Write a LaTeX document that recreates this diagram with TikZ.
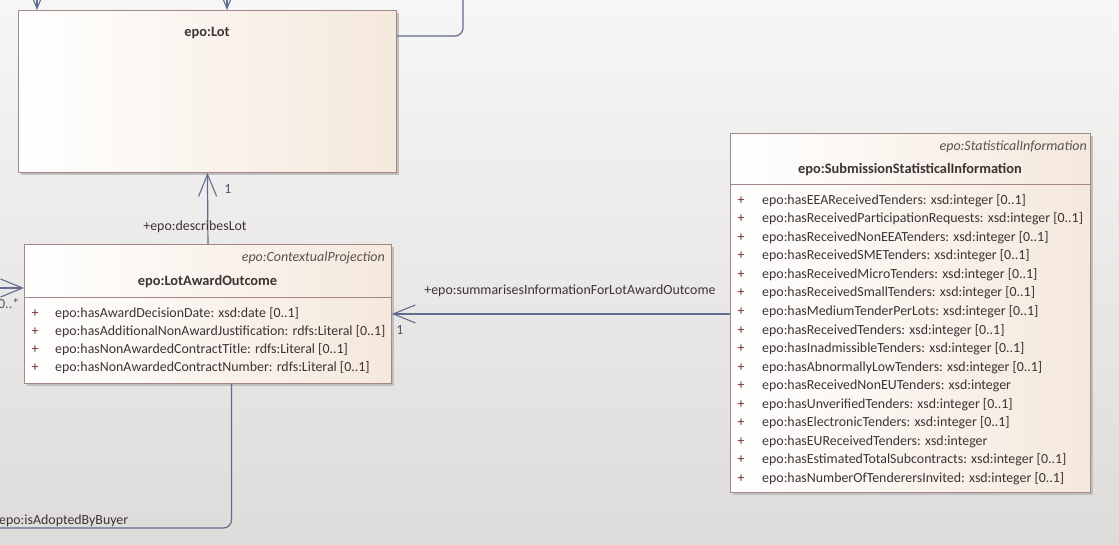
\documentclass[tikz,border=0pt]{standalone}
\usepackage{fontspec}
\setmainfont{Carlito}
\usetikzlibrary{arrows.meta,shadows,calc}
\definecolor{conncol}{RGB}{98,108,140}
\definecolor{boxborder}{RGB}{165,135,135}
\definecolor{boxright}{RGB}{245,232,220}
\definecolor{txtcol}{RGB}{60,52,52}
\definecolor{pluscol}{RGB}{120,40,40}
\definecolor{bgtop}{RGB}{246,246,246}
\definecolor{bgbot}{RGB}{222,220,218}
\tikzset{
  umlbox/.style={draw=boxborder, line width=0.9pt, left color=white, right color=boxright,
    anchor=north west, inner sep=0pt,
    drop shadow={shadow xshift=3pt, shadow yshift=-3pt, fill=black!25, opacity=1}},
  conn/.style={draw=conncol, line width=1.2pt},
  openarr/.style={-{Straight Barb[length=22pt,width=18pt,line width=1.1pt]}},
  txtshift/.style={yshift=-1.5pt},
  ttl/.style={txtshift, font=\bfseries\fontsize{14.4}{16}\selectfont, text=txtcol, inner sep=0pt},
  stereo/.style={txtshift, font=\itshape\fontsize{14}{16}\selectfont, text=txtcol!85, inner sep=0pt, anchor=east},
  attr/.style={txtshift, font=\fontsize{13.9}{16}\selectfont, text=txtcol, inner sep=0pt, anchor=west},
  plus/.style={txtshift, font=\fontsize{13.9}{16}\selectfont, text=pluscol, inner sep=0pt},
  lbl/.style={txtshift, font=\fontsize{13.9}{16}\selectfont, text=txtcol, inner sep=0pt},
  mult/.style={txtshift, font=\fontsize{13.9}{16}\selectfont, text=conncol!80!black, inner sep=0pt},
}
\begin{document}
\begin{tikzpicture}[x=1pt,y=-1pt]
\useasboundingbox (0,0) rectangle (1119,544);
\shade[top color=bgtop, bottom color=bgbot] (0,0) rectangle (1119,544);

% boxes
\node[umlbox, minimum width=378pt, minimum height=162pt] (lot) at (18,10) {};
\node[umlbox, minimum width=367pt, minimum height=139pt] (lao) at (24,244) {};
\node[umlbox, minimum width=360pt, minimum height=359pt] (ssi) at (730,133) {};

% Lot
\node[ttl] (lottitle) at (207,31) {epo:Lot};

% LotAwardOutcome
\node[stereo] (laost) at (385,256) {epo:ContextualProjection};
\node[ttl] (laotitle) at (207.5,280) {epo:LotAwardOutcome};
\draw[draw=boxborder, line width=0.9pt] (24,297) -- (391,297);
\foreach \t [count=\i from 0] in {
  {epo:hasAwardDecisionDate: xsd:date [0..1]},
  {epo:hasAdditionalNonAwardJustification: rdfs:Literal [0..1]},
  {epo:hasNonAwardedContractTitle: rdfs:Literal [0..1]},
  {epo:hasNonAwardedContractNumber: rdfs:Literal [0..1]}}{
  \node[plus] (laop\i) at (35,{312+18*\i}) {+};
  \node[attr] (laoa\i) at (55,{312+18*\i}) {\t};
}

% SubmissionStatisticalInformation
\node[stereo] (ssist) at (1087,145) {epo:StatisticalInformation};
\node[ttl] (ssititle) at (910,168) {epo:SubmissionStatisticalInformation};
\draw[draw=boxborder, line width=0.9pt] (730,184) -- (1090,184);
\foreach \t [count=\i from 0] in {
  {epo:hasEEAReceivedTenders: xsd:integer [0..1]},
  {epo:hasReceivedParticipationRequests: xsd:integer [0..1]},
  {epo:hasReceivedNonEEATenders: xsd:integer [0..1]},
  {epo:hasReceivedSMETenders: xsd:integer [0..1]},
  {epo:hasReceivedMicroTenders: xsd:integer [0..1]},
  {epo:hasReceivedSmallTenders: xsd:integer [0..1]},
  {epo:hasMediumTenderPerLots: xsd:integer [0..1]},
  {epo:hasReceivedTenders: xsd:integer [0..1]},
  {epo:hasInadmissibleTenders: xsd:integer [0..1]},
  {epo:hasAbnormallyLowTenders: xsd:integer [0..1]},
  {epo:hasReceivedNonEUTenders: xsd:integer},
  {epo:hasUnverifiedTenders: xsd:integer [0..1]},
  {epo:hasElectronicTenders: xsd:integer [0..1]},
  {epo:hasEUReceivedTenders: xsd:integer},
  {epo:hasEstimatedTotalSubcontracts: xsd:integer [0..1]},
  {epo:hasNumberOfTenderersInvited: xsd:integer [0..1]}}{
  \node[plus] (ssip\i) at (741,{199+18.53*\i}) {+};
  \node[attr] (ssia\i) at (762,{199+18.53*\i}) {\t};
}

% free ends
\coordinate (t1) at (37,-5);
\coordinate (t2) at (227,-5);
\coordinate (tr) at (463,-5);
\coordinate (l1) at (-5,288);
\coordinate (b1) at (-5,528);

% connectors
\draw[conn, openarr] (t1) -- (t1 |- lot.north);
\draw[conn, openarr] (t2) -- (t2 |- lot.north);
\draw[conn, rounded corners=8pt] ([yshift=-26pt]lot.north east) -| (tr);
\draw[conn, openarr] (lao.north) -- (lot.south);
\draw[conn, openarr] (l1) -- (l1 -| lao.west);
\draw[conn, rounded corners=8pt] ([xshift=23.5pt]lao.south) |- (b1);
\draw[conn, openarr] (ssi.west |- lao.east) -- (lao.east);

% labels
\node[mult] (m1) at (228,188) {1};
\node[lbl] (dl) at (195,225) {+epo:describesLot};
\node[mult, anchor=west] (m0) at (-2,302) {0..*};
\node[lbl, anchor=west] (ab) at (-1,519) {epo:isAdoptedByBuyer};
\node[lbl] (sl) at (570,289) {+epo:summarisesInformationForLotAwardOutcome};
\node[mult] (m2) at (400,329) {1};
\end{tikzpicture}
\end{document}
